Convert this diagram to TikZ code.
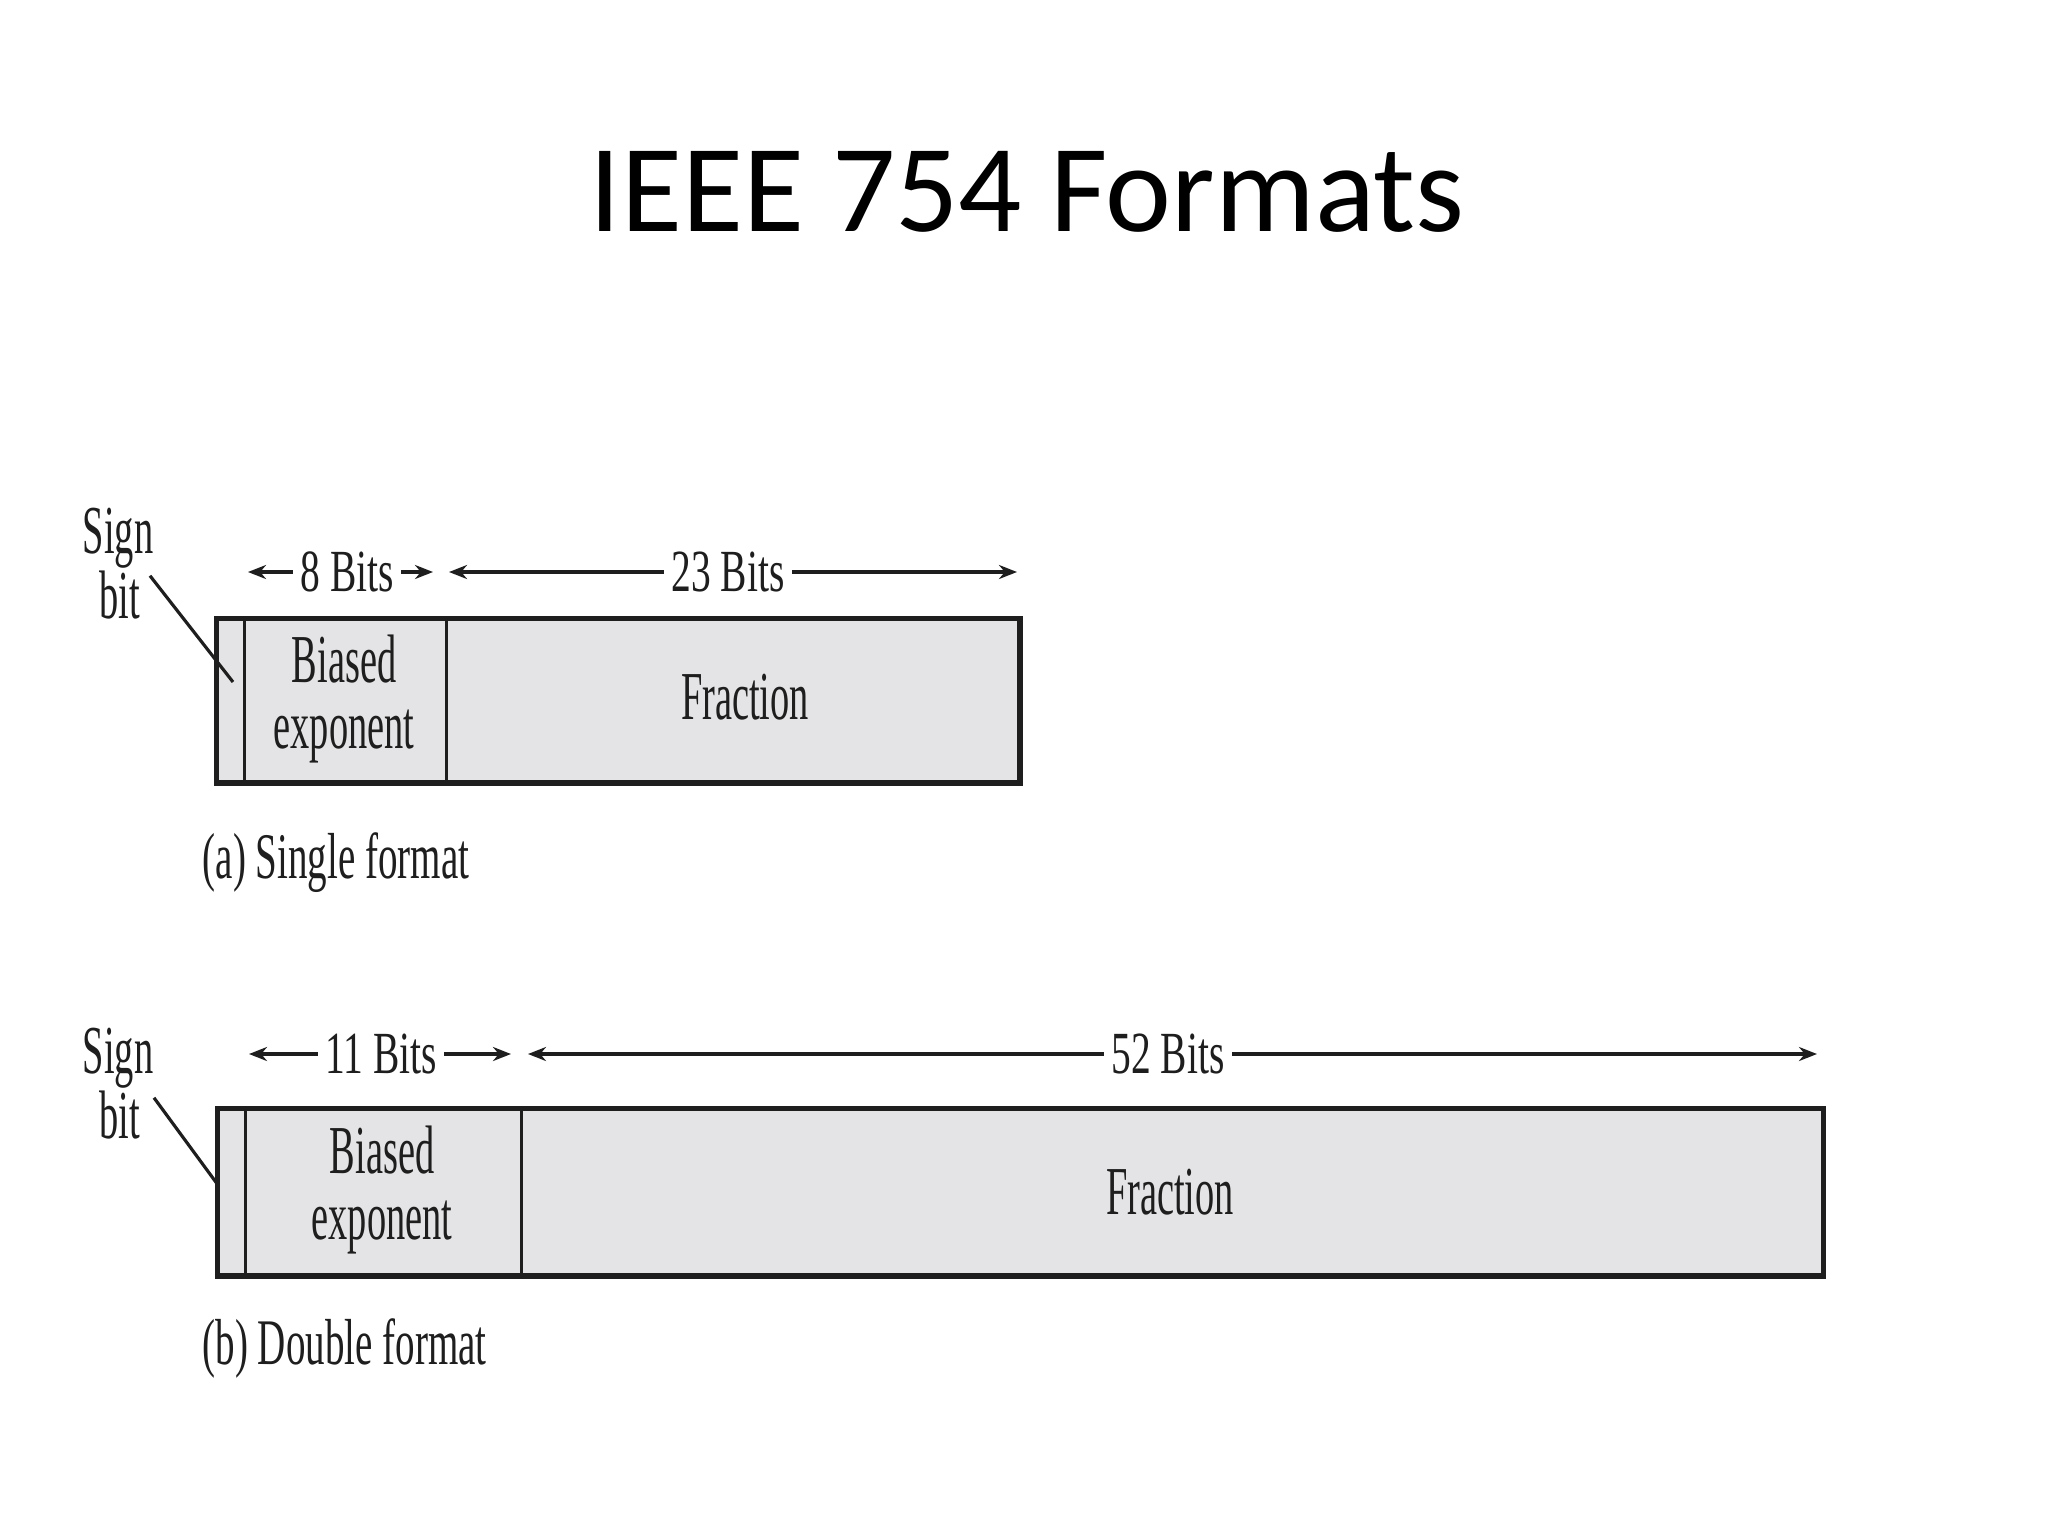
\documentclass[tikz,border=0pt]{standalone}
\usepackage{fontspec}
\setmainfont{Liberation Serif}
\newfontfamily\titlefont{Carlito}
\usetikzlibrary{arrows.meta,calc}
\definecolor{cellgray}{HTML}{E4E4E6}
\definecolor{ink}{HTML}{1E1E1E}
\newcommand{\cnd}[2][0.56]{\scalebox{#1}[1]{#2}}
\begin{document}
\begin{tikzpicture}[x=0.01cm,y=-0.01cm,
  cell/.style={draw=ink,line width=0.9pt,fill=cellgray,inner sep=0pt,anchor=north west},
  lbl/.style={text=ink,font=\fontsize{19.5}{19}\selectfont,inner sep=0pt,align=center},
  bits/.style={text=ink,font=\fontsize{17}{17}\selectfont,inner sep=2pt},
  capt/.style={text=ink,font=\fontsize{18.5}{18}\selectfont,inner sep=0pt,anchor=base west},
  dim/.style={draw=ink,line width=1.1pt,-{Stealth[length=0.18cm,width=0.14cm]}},
  lead/.style={draw=ink,line width=0.9pt},
  outer/.style={draw=ink,line width=1.4pt}]
\useasboundingbox[fill=white] (0,0) rectangle (2048,1536);
\node[font=\titlefont\fontsize{35.5}{42}\selectfont,anchor=base,inner sep=0pt] (title) at (1027,231) {IEEE 754 Formats};

% ---------- single format ----------
\node[cell,minimum width=0.27cm,minimum height=1.62cm] (sA) at (216,618) {};
\node[cell,minimum width=2.02cm,minimum height=1.62cm] (eA) at (243,618) {};
\node[cell,minimum width=5.72cm,minimum height=1.62cm] (fA) at (445,618) {};
\draw[outer] (sA.north west) rectangle (fA.south east);
\node[lbl] (beA) at (344,699) {\cnd{Biased}\\\cnd{exponent}};
\node[lbl] (frA) at (745,697) {\cnd{Fraction}};
\node[lbl,anchor=base] (sgA) at (118,553) {\cnd{Sign}};
\node[lbl,anchor=base] (btA) at (120,618) {\cnd{bit}};
\coordinate (tipA) at (233,682);
\draw[lead] ($(btA.north east)+(9,6)$) -- (tipA);

\node[bits] (b8) at (347,572) {\cnd[0.66]{8 Bits}};
\coordinate (b8l) at (248,572);
\coordinate (b8r) at (433,572);
\draw[dim] (b8.west) -- (b8l);
\draw[dim] (b8.east) -- (b8r);
\node[bits] (b23) at (728,572) {\cnd[0.66]{23 Bits}};
\coordinate (b23l) at (449,572);
\coordinate (b23r) at (1017,572);
\draw[dim] (b23.west) -- (b23l);
\draw[dim] (b23.east) -- (b23r);
\node[capt] (capA) at (202,878) {\cnd[0.6]{(a) Single format}};

% ---------- double format ----------
\node[cell,minimum width=0.27cm,minimum height=1.65cm] (sB) at (217,1108) {};
\node[cell,minimum width=2.76cm,minimum height=1.65cm] (eB) at (244,1108) {};
\node[cell,minimum width=13.0cm,minimum height=1.65cm] (fB) at (520,1108) {};
\draw[outer] (sB.north west) rectangle (fB.south east);
\node[lbl] (beB) at (382,1190) {\cnd{Biased}\\\cnd{exponent}};
\node[lbl] (frB) at (1170,1192) {\cnd{Fraction}};
\node[lbl,anchor=base] (sgB) at (118,1073) {\cnd{Sign}};
\node[lbl,anchor=base] (btB) at (120,1138) {\cnd{bit}};
\coordinate (tipB) at (218,1185);
\draw[lead] ($(btB.north east)+(13,8)$) -- (tipB);

\node[bits] (b11) at (381,1054) {\cnd[0.66]{11 Bits}};
\coordinate (b11l) at (249,1054);
\coordinate (b11r) at (511,1054);
\draw[dim] (b11.west) -- (b11l);
\draw[dim] (b11.east) -- (b11r);
\node[bits] (b52) at (1168,1054) {\cnd[0.66]{52 Bits}};
\coordinate (b52l) at (528,1054);
\coordinate (b52r) at (1817,1054);
\draw[dim] (b52.west) -- (b52l);
\draw[dim] (b52.east) -- (b52r);
\node[capt] (capB) at (202,1364) {\cnd[0.6]{(b) Double format}};
\end{tikzpicture}
\end{document}
